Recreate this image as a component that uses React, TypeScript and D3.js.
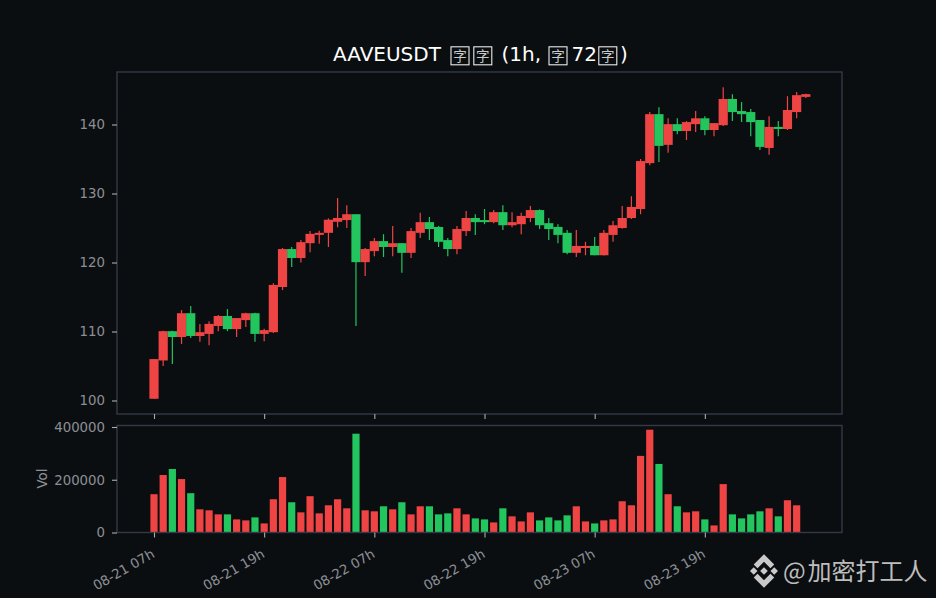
import React from 'react';
import * as d3 from 'd3';

const opens = [
  100.25, 105.8, 110.05, 109.2, 112.65, 109.35, 109.65, 110.8, 112.25, 110.35, 111.65, 112.65,
  109.65, 109.9, 116.45, 121.95, 120.65, 122.8, 124.0, 124.3, 125.9, 126.15, 127.0, 120.05,
  121.65, 123.1, 122.25, 122.8, 121.4, 124.3, 125.85, 125.15, 123.25, 121.95, 124.55, 126.45,
  126.15, 125.85, 127.3, 125.4, 125.55, 126.45, 127.6, 125.7, 125.15, 124.3, 121.4, 122.1,
  122.4, 121.05, 124.0, 125.0, 126.45, 127.75, 134.4, 141.5, 137.05, 140.05, 139.05, 140.05,
  140.9, 139.2, 139.9, 143.7, 141.95, 141.8, 140.65, 136.6, 139.65, 139.35, 141.8, 144.0,
];
const highs = [
  106.0, 110.1, 110.1, 113.1, 113.7, 111.1, 111.5, 112.4, 113.25, 111.95, 112.7, 112.7,
  110.4, 117.0, 122.1, 122.25, 123.25, 124.55, 124.6, 126.4, 129.35, 128.3, 127.0, 122.1,
  123.55, 124.1, 125.3, 122.8, 125.0, 127.2, 126.6, 125.3, 123.55, 125.3, 127.45, 127.0,
  127.75, 127.6, 128.3, 127.3, 127.2, 128.2, 127.7, 126.45, 125.55, 124.7, 124.7, 123.0,
  123.7, 124.7, 126.0, 128.2, 129.6, 135.0, 141.8, 142.5, 140.9, 140.9, 140.5, 141.95,
  141.2, 140.2, 145.4, 144.4, 143.25, 142.25, 140.65, 141.2, 140.5, 144.1, 144.7, 144.45,
];
const lows = [
  100.2, 105.0, 105.3, 108.2, 109.05, 108.5, 108.0, 110.05, 110.05, 109.2, 110.65, 108.5,
  108.6, 109.8, 116.0, 119.35, 120.0, 121.5, 122.7, 122.25, 125.1, 125.0, 110.8, 118.05,
  120.9, 120.8, 120.9, 118.5, 120.65, 123.55, 123.25, 122.25, 120.9, 121.2, 123.85, 124.0,
  125.55, 125.7, 124.7, 125.1, 124.1, 125.85, 124.85, 123.25, 122.8, 121.2, 120.8, 121.05,
  121.05, 121.0, 123.0, 124.9, 126.3, 127.0, 134.1, 134.55, 135.9, 138.6, 137.75, 138.9,
  138.45, 138.3, 139.8, 140.5, 140.35, 138.3, 136.3, 135.6, 138.3, 139.2, 140.9, 143.85,
];
const closes = [
  106.0, 110.05, 109.2, 112.65, 109.35, 109.9, 111.1, 112.25, 110.35, 111.95, 112.65, 109.65,
  110.2, 116.75, 121.95, 120.65, 122.95, 124.15, 124.3, 126.2, 126.45, 127.0, 120.05, 121.95,
  123.1, 122.25, 122.8, 121.4, 124.55, 125.85, 124.85, 123.0, 121.95, 124.85, 126.45, 125.85,
  125.85, 127.3, 125.4, 125.85, 126.75, 127.6, 125.4, 124.85, 124.0, 121.4, 122.4, 122.4,
  121.05, 124.3, 125.4, 126.45, 128.05, 134.7, 141.5, 136.9, 140.05, 139.05, 140.35, 140.9,
  139.2, 140.2, 143.7, 141.8, 141.5, 140.35, 136.75, 139.65, 139.35, 142.1, 144.25, 144.4,
];
const volumes = [
  145200, 217900, 240800, 202600, 149000, 87900, 84100, 68800, 68800, 49700, 45900, 57300,
  34400, 126100, 210200, 114700, 76400, 137600, 72600, 103200, 126100, 91700, 374600, 84100,
  80300, 99400, 87900, 114700, 68800, 99400, 99400, 68800, 72600, 91700, 68800, 53500,
  49700, 38200, 91700, 61200, 42000, 76400, 45900, 57300, 45900, 65000, 99400, 42000,
  34400, 45900, 49700, 118500, 103200, 290500, 389800, 259900, 145200, 99400, 76400, 80300,
  49700, 26800, 183500, 68800, 53500, 68800, 80300, 91700, 61200, 122300, 103200, 0,
];
const tickIndex = [0, 12, 24, 36, 48, 60];
const tickLabels = ['08-21 07h', '08-21 19h', '08-22 07h', '08-22 19h', '08-23 07h', '08-23 19h'];
const priceTicks = [100, 110, 120, 130, 140];
const volTicks = [0, 200000, 400000];

const BG = '#0b0e11';
const SPINE = '#333a45';
const TICK = '#a8adb3';
const LABEL = '#8c9096';
const UP = '#ef4444';
const DOWN = '#22c55e';
const FONT = '"DejaVu Sans", sans-serif';
const LOGO =
  'M38.73 53.2L64 27.93l25.28 25.28 14.7-14.7L64 -1.47 24.03 38.5zM9.27 64l14.7-14.7L38.67 64l-14.7 14.7zM38.73 74.8L64 100.07l25.28-25.28 14.71 14.69L64 129.47 24.03 89.5l-.02-.02zM89.33 64l14.7-14.7L118.73 64l-14.7 14.7zM78.91 63.99L64 49.08 52.98 60.1l-1.27 1.27-2.61 2.61-.02.02.02.02L64 78.92l14.91-14.91.01-.01z';

// 한 패널의 축을 그린다
function styleAxis(g: any) {
  g.select('.domain').remove();
  g.selectAll('line').attr('stroke', TICK).attr('stroke-width', 1.1);
  g.selectAll('text').attr('fill', LABEL).attr('font-family', FONT).attr('font-size', 13.3);
}

function drawChart(node: SVGSVGElement) {
  const svg = d3.select(node);
  svg.selectAll('*').remove();

  const x = d3.scaleLinear([-4.03, 74.94], [117, 842]);
  const y = d3.scaleLinear([100, 140], [400.5, 124.5]);
  const yVol = d3.scaleLinear([0, 400000], [532.5, 427]);
  const index = d3.range(opens.length);
  const colorOf = (i: number) => (closes[i] >= opens[i] ? UP : DOWN);

  svg.append('rect').attr('width', 936).attr('height', 598).attr('fill', BG);

  // 가격 패널
  svg.append('g')
    .selectAll('line')
    .data(index)
    .enter()
    .append('line')
    .attr('x1', (i) => x(i))
    .attr('x2', (i) => x(i))
    .attr('y1', (i) => y(highs[i]))
    .attr('y2', (i) => y(lows[i]))
    .attr('stroke', colorOf)
    .attr('stroke-width', 1.2);
  svg.append('g')
    .selectAll('rect')
    .data(index)
    .enter()
    .append('rect')
    .attr('x', (i) => x(i) - 4.6)
    .attr('width', 9.2)
    .attr('y', (i) => y(Math.max(opens[i], closes[i])))
    .attr('height', (i) => Math.abs(y(opens[i]) - y(closes[i])))
    .attr('fill', colorOf);

  // 거래량 패널
  svg.append('g')
    .selectAll('rect')
    .data(index)
    .enter()
    .append('rect')
    .attr('x', (i) => x(i) - 3.6)
    .attr('width', 7.2)
    .attr('y', (i) => yVol(volumes[i]))
    .attr('height', (i) => yVol(0) - yVol(volumes[i]))
    .attr('fill', colorOf);

  svg.append('rect')
    .attr('x', 117).attr('y', 72).attr('width', 725).attr('height', 342)
    .attr('fill', 'none').attr('stroke', SPINE).attr('stroke-width', 1.4);
  svg.append('rect')
    .attr('x', 117).attr('y', 425.5).attr('width', 725).attr('height', 107)
    .attr('fill', 'none').attr('stroke', SPINE).attr('stroke-width', 1.4);

  svg.append('g')
    .attr('transform', 'translate(117,0)')
    .call(d3.axisLeft(y).tickValues(priceTicks).tickSize(5).tickPadding(7) as any)
    .call(styleAxis);
  svg.append('g')
    .attr('transform', 'translate(117,0)')
    .call(
      d3.axisLeft(yVol).tickValues(volTicks).tickSize(5).tickPadding(7).tickFormat(d3.format('d') as any) as any,
    )
    .call(styleAxis);
  svg.append('g')
    .attr('transform', 'translate(0,414)')
    .call(d3.axisBottom(x).tickValues(tickIndex).tickSize(5).tickFormat(() => '') as any)
    .call(styleAxis);
  const bottom = svg.append('g')
    .attr('transform', 'translate(0,532.5)')
    .call(
      d3.axisBottom(x).tickValues(tickIndex).tickSize(5).tickFormat((_, i) => tickLabels[i]) as any,
    )
    .call(styleAxis);
  bottom.selectAll('text')
    .attr('text-anchor', 'end')
    .attr('dy', 0)
    .attr('y', 0)
    .attr('transform', 'translate(1,24) rotate(-30)');

  svg.append('text')
    .attr('transform', 'translate(47,478.5) rotate(-90)')
    .attr('text-anchor', 'middle')
    .attr('fill', LABEL)
    .attr('font-family', FONT)
    .attr('font-size', 13.3)
    .text('Vol');

  // 제목: 글꼴이 없는 글자는 상자로 표시된다
  const title = [
    { x: 333, t: 'AAVEUSDT' },
    { x: 501.5, t: '(1h,' },
    { x: 571.5, t: '72' },
    { x: 620, t: ')' },
  ];
  svg.append('g')
    .selectAll('text')
    .data(title)
    .enter()
    .append('text')
    .attr('x', (d) => d.x)
    .attr('y', 61)
    .attr('fill', '#ffffff')
    .attr('font-family', FONT)
    .attr('font-size', 20)
    .text((d) => d.t);
  const boxes = svg.append('g')
    .selectAll('g')
    .data([451, 473.8, 549, 598.8])
    .enter()
    .append('g')
    .attr('transform', (d) => `translate(${d},46.8)`);
  boxes.append('rect')
    .attr('width', 18).attr('height', 18)
    .attr('fill', 'none').attr('stroke', '#ececec').attr('stroke-width', 1.1);
  boxes.append('text')
    .attr('x', 9).attr('y', 14.2)
    .attr('text-anchor', 'middle')
    .attr('fill', '#c8c8c8')
    .attr('font-family', '"Noto Sans CJK SC"')
    .attr('font-size', 13.5)
    .text('字');

  // 워터마크
  svg.append('path')
    .attr('d', LOGO)
    .attr('transform', 'translate(747.6,554.6) scale(0.256)')
    .attr('fill', '#c9c9c9');
  svg.append('g')
    .selectAll('text')
    .data([
      { x: 783, t: '@' },
      { x: 807.5, t: '加密打工人' },
    ])
    .enter()
    .append('text')
    .attr('x', (d) => d.x)
    .attr('y', 580)
    .attr('fill', '#bdbdbd')
    .attr('font-family', '"Noto Sans CJK SC"')
    .attr('font-size', 24)
    .text((d) => d.t);
}

export default function App() {
  const ref = React.useRef<SVGSVGElement>(null);
  React.useEffect(() => {
    if (ref.current) drawChart(ref.current);
  }, []);
  return (
    <svg
      ref={ref}
      width={936}
      height={598}
      style={{ position: 'absolute', left: 0, top: 0, display: 'block' }}
    />
  );
}
